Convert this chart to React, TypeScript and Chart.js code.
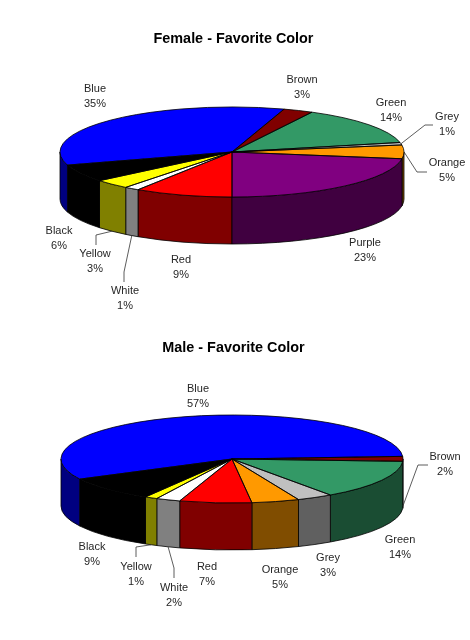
import { useEffect, useRef } from "react";
import { Chart, registerables, type Plugin } from "chart.js";

Chart.register(...registerables);

const femaleCategories = ["Red", "White", "Yellow", "Black", "Blue", "Brown", "Green", "Grey", "Orange", "Purple"];
const femaleValues = [9.2, 1.4, 3.4, 6.3, 34.6, 2.8, 13.9, 0.9, 4.9, 22.6];

const maleCategories = ["Blue", "Brown", "Green", "Grey", "Orange", "Red", "White", "Yellow", "Black"];
const maleValues = [56.6, 1.8, 14.4, 3.4, 4.5, 6.8, 2.3, 1.2, 9.0];

const topColors: Record<string, string> = {
  Red: "#ff0000",
  White: "#ffffff",
  Yellow: "#ffff00",
  Black: "#000000",
  Blue: "#0000ff",
  Brown: "#800000",
  Green: "#339966",
  Grey: "#c0c0c0",
  Orange: "#ff9900",
  Purple: "#800080",
};

const sideColors: Record<string, string> = {
  Red: "#800000",
  White: "#808080",
  Yellow: "#808000",
  Black: "#000000",
  Blue: "#000080",
  Brown: "#400000",
  Green: "#1a4d33",
  Grey: "#606060",
  Orange: "#804d00",
  Purple: "#400040",
};

type Leader = { elbow: [number, number]; end: [number, number]; onBase: boolean };

type Pie3dOptions = {
  cx: number;
  cy: number;
  rx: number;
  ry: number;
  depth: number;
  labelAt: Record<string, [number, number]>;
  leaders: Record<string, Leader>;
};

const femaleLayout: Pie3dOptions = {
  cx: 232,
  cy: 152,
  rx: 172,
  ry: 45,
  depth: 47,
  labelAt: {
    Blue: [95, 96],
    Brown: [302, 87],
    Green: [391, 110],
    Grey: [447, 124],
    Orange: [447, 170],
    Purple: [365, 250],
    Red: [181, 267],
    White: [125, 298],
    Yellow: [95, 261],
    Black: [59, 238],
  },
  leaders: {
    Grey: { elbow: [425, 125], end: [433, 125], onBase: false },
    Orange: { elbow: [417, 172], end: [427, 172], onBase: false },
    Yellow: { elbow: [96, 235], end: [96, 245], onBase: true },
    White: { elbow: [124, 272], end: [124, 282], onBase: true },
  },
};

// second canvas sits 310px down the page, so these are relative to that
const maleLayout: Pie3dOptions = {
  cx: 232,
  cy: 149,
  rx: 171,
  ry: 44,
  depth: 47,
  labelAt: {
    Blue: [198, 86],
    Brown: [445, 154],
    Green: [400, 237],
    Grey: [328, 255],
    Orange: [280, 267],
    Red: [207, 264],
    White: [174, 285],
    Yellow: [136, 264],
    Black: [92, 244],
  },
  leaders: {
    Brown: { elbow: [418, 155], end: [428, 155], onBase: true },
    Yellow: { elbow: [136, 237], end: [136, 247], onBase: true },
    White: { elbow: [174, 258], end: [174, 268], onBase: true },
  },
};

const pie3d: Plugin<"pie"> = {
  id: "pie3d",
  beforeDatasetsDraw(chart, _args, opts: any) {
    const { ctx } = chart;
    const { cx, cy, rx, ry, depth } = opts as Pie3dOptions;
    const arcs = chart.getDatasetMeta(0).data as any[];
    const names = chart.data.labels as string[];

    // outer wall, only the part of the rim facing the viewer
    ctx.save();
    ctx.lineWidth = 0.8;
    ctx.strokeStyle = "#000000";
    arcs.forEach((arc, i) => {
      for (const turn of [-2, 0, 2]) {
        const from = Math.max(arc.startAngle + turn * Math.PI, 0);
        const to = Math.min(arc.endAngle + turn * Math.PI, Math.PI);
        if (to <= from) continue;
        ctx.beginPath();
        ctx.ellipse(cx, cy, rx, ry, 0, from, to);
        ctx.ellipse(cx, cy + depth, rx, ry, 0, to, from, true);
        ctx.closePath();
        ctx.fillStyle = sideColors[names[i]];
        ctx.fill();
        ctx.stroke();
      }
    });
    ctx.restore();

    // squash the flat pie the library draws onto the top face
    const first = arcs[0];
    ctx.save();
    ctx.translate(cx, cy);
    ctx.scale(rx / first.outerRadius, ry / first.outerRadius);
    ctx.translate(-first.x, -first.y);
  },
  afterDatasetsDraw(chart, _args, opts: any) {
    const { ctx } = chart;
    ctx.restore();

    const { cx, cy, rx, ry, depth, labelAt, leaders } = opts as Pie3dOptions;
    const arcs = chart.getDatasetMeta(0).data as any[];
    const names = chart.data.labels as string[];
    const values = chart.data.datasets[0].data as number[];
    const total = values.reduce((a, b) => a + b, 0);

    ctx.save();
    ctx.lineWidth = 0.8;
    ctx.strokeStyle = "#000000";
    arcs.forEach((arc) => {
      ctx.beginPath();
      ctx.moveTo(cx, cy);
      ctx.ellipse(cx, cy, rx, ry, 0, arc.startAngle, arc.endAngle);
      ctx.closePath();
      ctx.stroke();
    });

    ctx.font = "11px 'Liberation Sans'";
    ctx.fillStyle = "#262626";
    ctx.textAlign = "center";
    ctx.textBaseline = "middle";
    ctx.strokeStyle = "#333333";
    names.forEach((name, i) => {
      const leader = leaders[name];
      if (leader) {
        const mid = (arcs[i].startAngle + arcs[i].endAngle) / 2;
        ctx.beginPath();
        ctx.moveTo(cx + rx * Math.cos(mid), cy + ry * Math.sin(mid) + (leader.onBase ? depth : 0));
        ctx.lineTo(leader.elbow[0], leader.elbow[1]);
        ctx.lineTo(leader.end[0], leader.end[1]);
        ctx.stroke();
      }
      const [x, y] = labelAt[name];
      ctx.fillText(name, x, y - 7);
      ctx.fillText(`${Math.round((values[i] / total) * 100)}%`, x, y + 7.5);
    });
    ctx.restore();
  },
};

type Pie3dProps = {
  title: string;
  titleTop: number;
  categories: string[];
  values: number[];
  rotation: number;
  layout: Pie3dOptions;
  height: number;
};

function Pie3d({ title, titleTop, categories, values, rotation, layout, height }: Pie3dProps) {
  const canvasRef = useRef<HTMLCanvasElement | null>(null);

  useEffect(() => {
    if (!canvasRef.current) return;
    const chart = new Chart(canvasRef.current, {
      type: "pie",
      data: {
        labels: categories,
        datasets: [
          {
            data: values,
            backgroundColor: categories.map((c) => topColors[c]),
            borderWidth: 0,
            clip: false,
          } as any,
        ],
      },
      options: {
        responsive: false,
        animation: false,
        rotation,
        layout: { padding: { right: 3 } },
        plugins: {
          legend: { display: false },
          tooltip: { enabled: false },
          title: {
            display: true,
            text: title,
            color: "#000000",
            font: { family: "'Liberation Sans'", size: 14.4, weight: "bold" },
            padding: { top: titleTop, bottom: 6 },
          },
          pie3d: layout,
        } as any,
      },
      plugins: [pie3d],
    });
    return () => chart.destroy();
  }, []);

  return <canvas ref={canvasRef} width={470} height={height} style={{ display: "block" }} />;
}

export default function App() {
  return (
    <div style={{ position: "absolute", left: 0, top: 0, width: 470, height: 640, background: "#ffffff" }}>
      <Pie3d
        title="Female - Favorite Color"
        titleTop={30}
        categories={femaleCategories}
        values={femaleValues}
        rotation={180}
        layout={femaleLayout}
        height={310}
      />
      <Pie3d
        title="Male - Favorite Color"
        titleTop={29}
        categories={maleCategories}
        values={maleValues}
        rotation={-117.2}
        layout={maleLayout}
        height={330}
      />
    </div>
  );
}
